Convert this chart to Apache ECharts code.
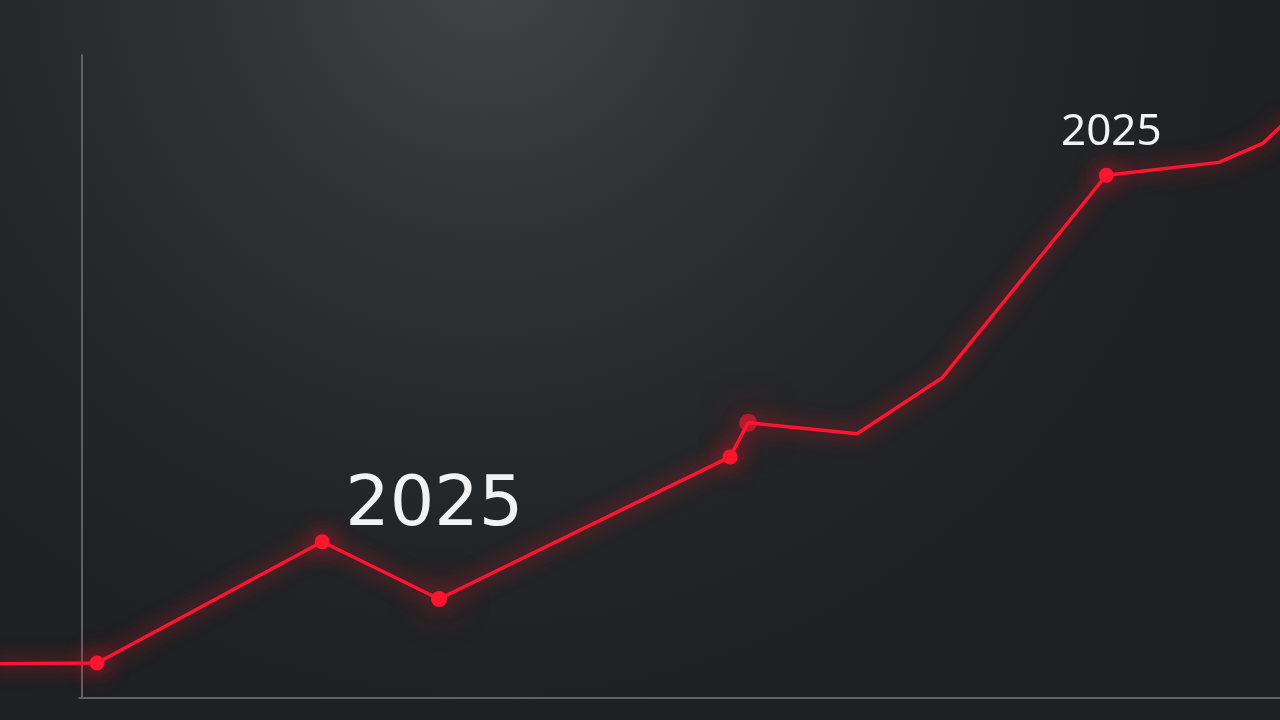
<!DOCTYPE html>
<html>
<head>
<meta charset="utf-8">
<script src="https://cdn.jsdelivr.net/npm/echarts@6/dist/echarts.min.js"></script>
<style>html,body{margin:0;padding:0;background:#26282a;}#c{width:1280px;height:720px;}</style>
</head>
<body>
<div id="c"></div>
<script>
// Data (arbitrary units)
const xValues = [-7.5, 1.25, 20.05, 29.8, 54.1, 55.6, 64.7, 71.8, 85.5, 94.9, 98.6, 100.8];
const yValues = [5.3, 5.45, 24.3, 15.4, 37.5, 42.8, 41.1, 49.8, 81.3, 83.3, 86.3, 90.2];
const dotIndexes = [1, 2, 3, 4, 5, 8];
const yearLabels = { 2: '2025', 8: '2025' };

const RED = '#ff1530';
const data = xValues.map((x, i) => {
  const d = { value: [x, yValues[i]] };
  const isDot = dotIndexes.indexOf(i) >= 0;
  d.symbolSize = isDot ? (i === 5 ? 18 : (i === 3 ? 16 : 15)) : 0;
  d.itemStyle = {
    color: RED,
    shadowColor: 'rgba(255,20,40,1)',
    shadowBlur: (i === 3 || i === 5) ? 40 : 24,
    opacity: i === 5 ? 0.6 : 1
  };
  if (yearLabels[i]) {
    const big = i === 2;
    d.label = {
      show: true,
      formatter: yearLabels[i],
      position: 'top',
      color: '#f2f2f2',
      fontFamily: big ? 'DejaVu Sans' : 'Noto Sans',
      fontSize: big ? 70 : 44,
      offset: big ? [112, 13] : [5, -8]
    };
  }
  return d;
});

const chart = echarts.init(document.getElementById('c'));
chart.setOption({
  backgroundColor: {
    type: 'radial', x: 0.38, y: -0.05, r: 1.05,
    colorStops: [
      { offset: 0, color: '#434445' },
      { offset: 0.35, color: '#303233' },
      { offset: 0.7, color: '#242628' },
      { offset: 1, color: '#1e2022' }
    ]
  },
  animation: false,
  grid: { left: 0, right: 0, top: 55, bottom: 22 },
  xAxis: {
    type: 'value', min: -6.85, max: 100,
    axisLine: { show: false },
    axisTick: { show: false }, axisLabel: { show: false }, splitLine: { show: false }
  },
  yAxis: {
    type: 'value', min: 0, max: 100,
    axisLine: { show: true, onZero: true, lineStyle: { color: '#5f6163', width: 2 } },
    axisTick: { show: false }, axisLabel: { show: false }, splitLine: { show: false }
  },
  series: [{
    type: 'line',
    clip: false,
    data: data,
    symbol: 'circle',
    showAllSymbol: true,
    lineStyle: { color: RED, width: 3.5, shadowColor: 'rgba(255,20,40,1)', shadowBlur: 20 },
    z: 5,
    markLine: {
      silent: true,
      symbol: 'none',
      label: { show: false },
      lineStyle: { color: '#5f6163', width: 2, type: 'solid' },
      data: [[{ coord: [-0.3, 0] }, { coord: [100, 0] }]]
    }
  }]
});
</script>
</body>
</html>
